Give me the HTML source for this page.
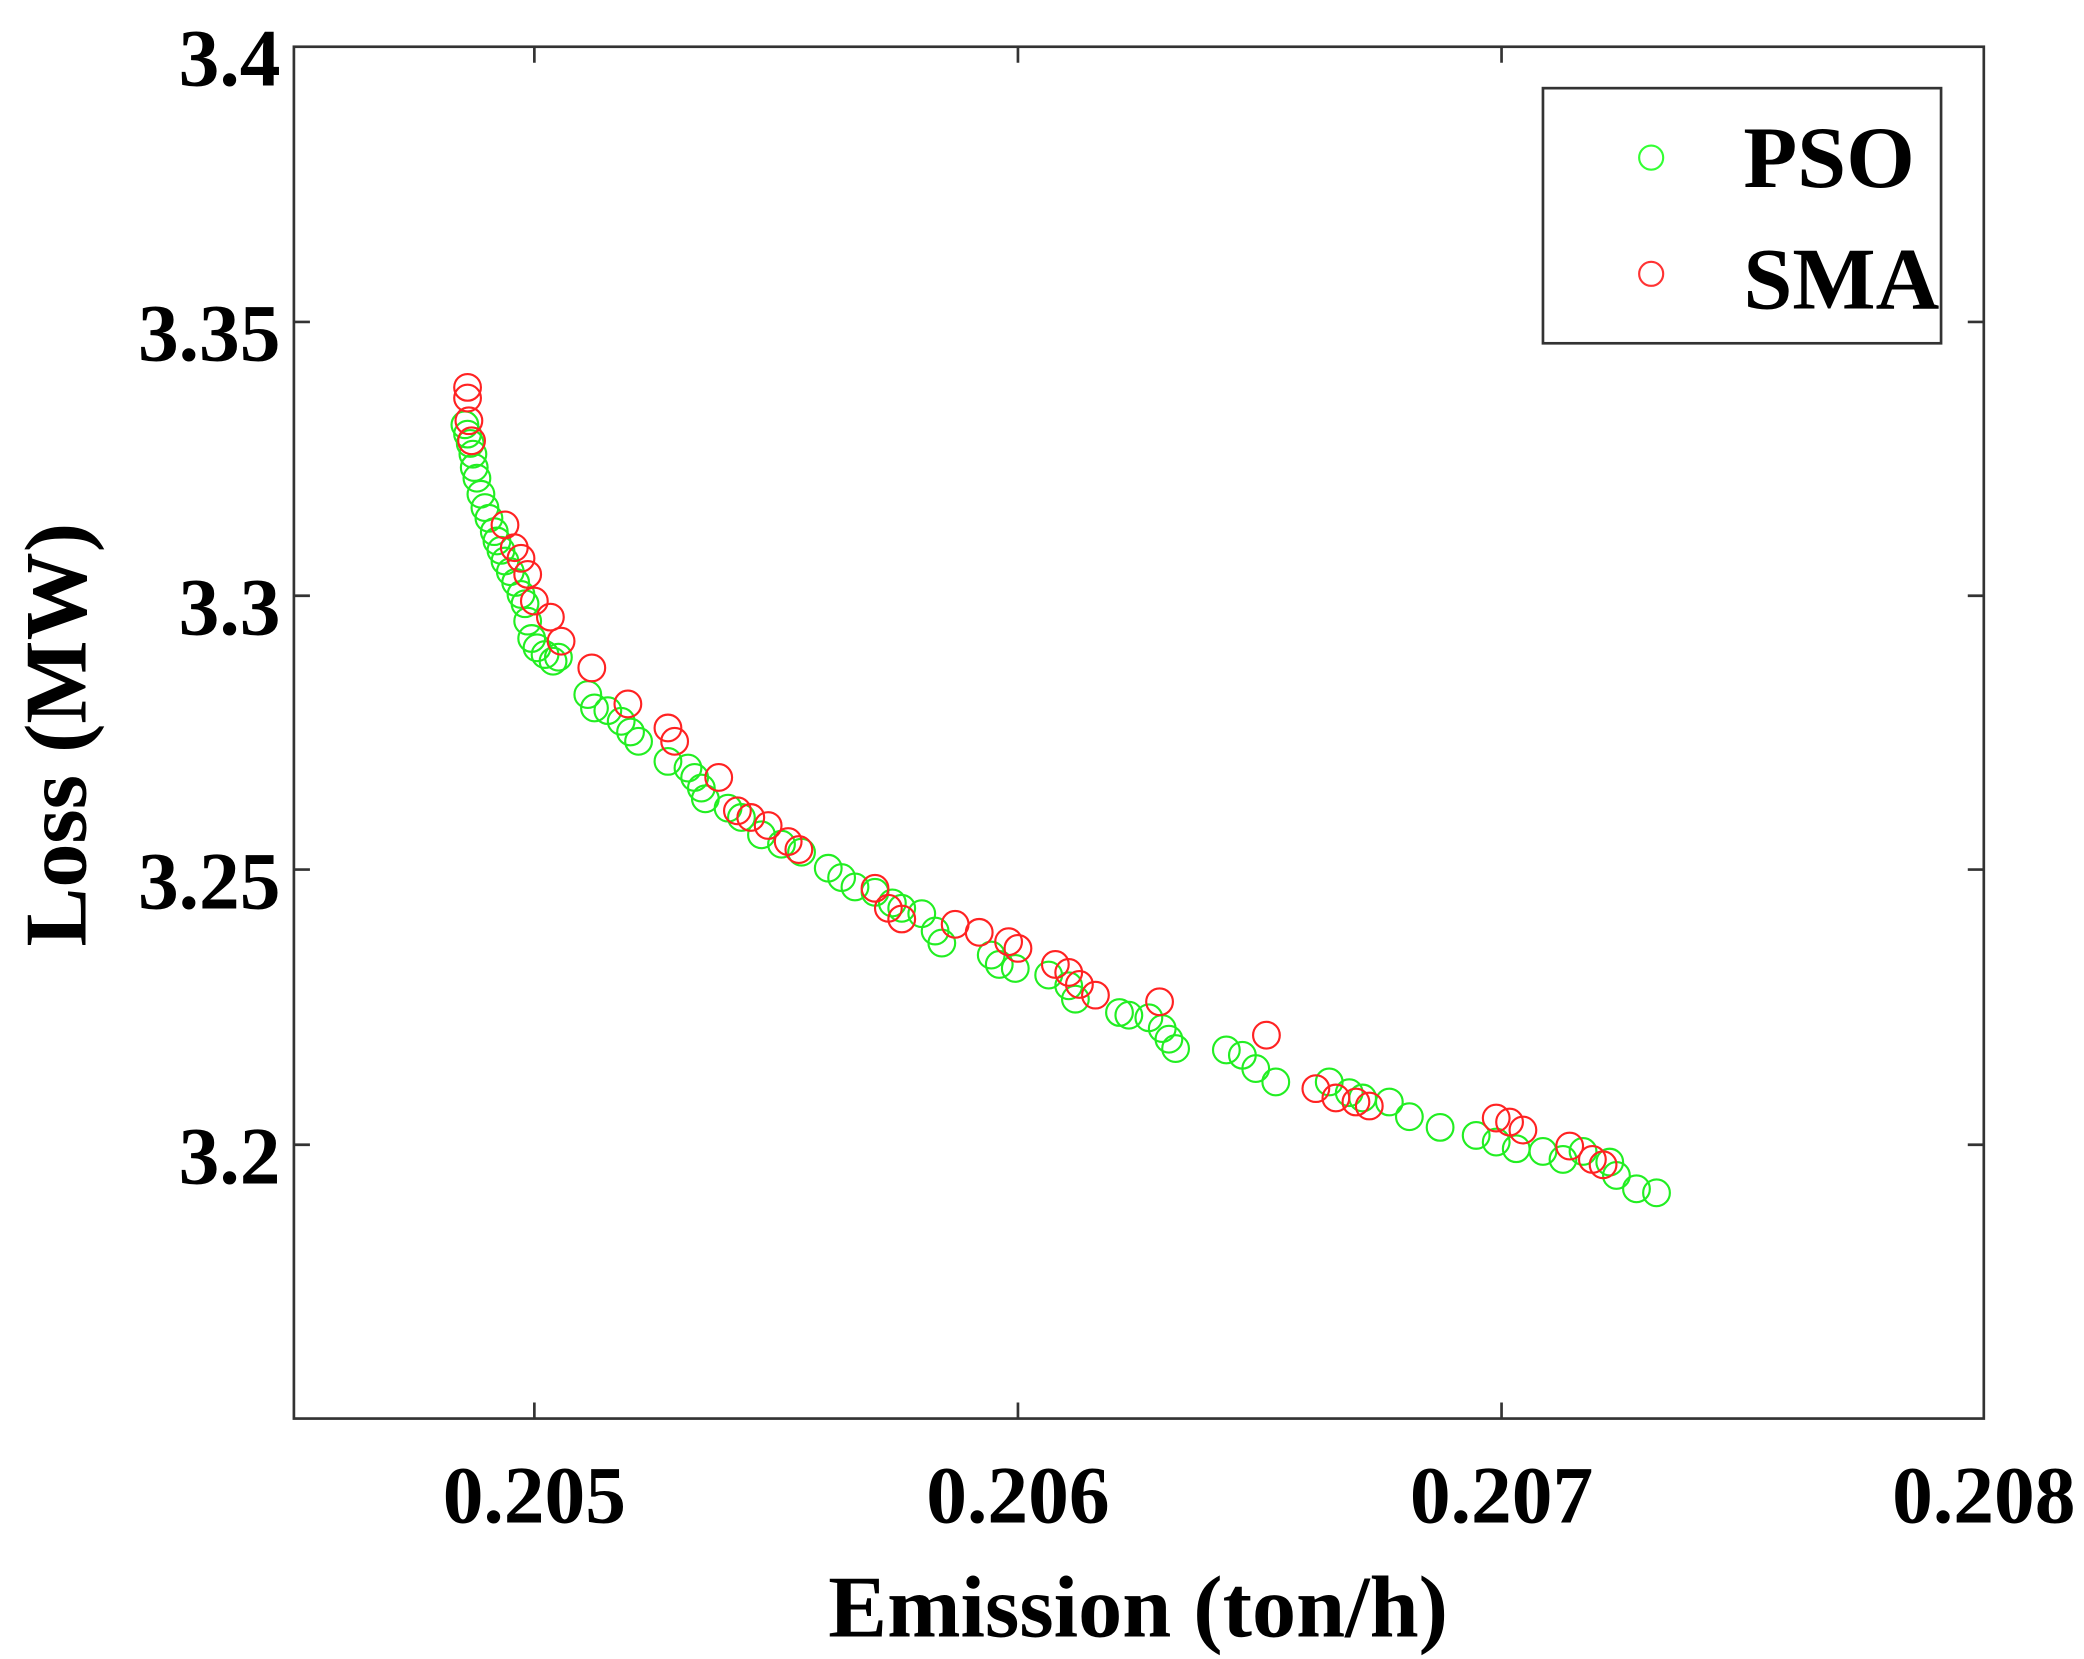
<!DOCTYPE html>
<html><head><style>html,body{margin:0;padding:0;background:#fff}svg{display:block}</style></head>
<body>
<svg width="2084" height="1659" viewBox="0 0 1560 1242" preserveAspectRatio="none" xmlns="http://www.w3.org/2000/svg">
<rect x="0" y="0" width="1560" height="1242" fill="#fff"/>
<g fill="none" stroke="#333" stroke-width="2">
<rect x="220" y="35" width="1265" height="1027"/>
<path d="M400 1062v-12M762 1062v-12M1124 1062v-12M400 35v12M762 35v12M1124 35v12M220 241h12M220 446h12M220 651h12M220 857h12M1485 241h-12M1485 446h-12M1485 651h-12M1485 857h-12"/>
</g>
<g font-family="Liberation Serif, serif" font-weight="bold" fill="#000" font-size="61">
<text x="210" y="64" text-anchor="end">3.4</text>
<text x="210" y="270" text-anchor="end">3.35</text>
<text x="210" y="475" text-anchor="end">3.3</text>
<text x="210" y="680" text-anchor="end">3.25</text>
<text x="210" y="886" text-anchor="end">3.2</text>
<text x="400" y="1140" text-anchor="middle">0.205</text>
<text x="762" y="1140" text-anchor="middle">0.206</text>
<text x="1124" y="1140" text-anchor="middle">0.207</text>
<text x="1485" y="1140" text-anchor="middle">0.208</text>
<text x="852" y="1225" text-anchor="middle" font-size="66">Emission (ton/h)</text>
<text transform="translate(64,550) rotate(-90)" text-anchor="middle" font-size="66">Loss (MW)</text>
</g>
<rect x="1155" y="66" width="298" height="191" fill="#fff" stroke="#333" stroke-width="2"/>
<circle cx="1236" cy="118" r="9" fill="none" stroke="#3f3" stroke-width="1.6"/>
<circle cx="1236" cy="205" r="9" fill="none" stroke="#f33" stroke-width="1.6"/>
<g font-family="Liberation Serif, serif" font-weight="bold" font-size="66" fill="#000">
<text x="1305" y="140">PSO</text>
<text x="1305" y="231">SMA</text>
</g>
<g fill="none" stroke="#2e2" stroke-width="1.6">
<circle cx="348" cy="318" r="10"/><circle cx="350" cy="325" r="10"/><circle cx="352" cy="332" r="10"/><circle cx="354" cy="340" r="10"/><circle cx="355" cy="350" r="10"/><circle cx="357" cy="358" r="10"/><circle cx="360" cy="370" r="10"/><circle cx="363" cy="380" r="10"/><circle cx="366" cy="388" r="10"/><circle cx="370" cy="398" r="10"/><circle cx="372" cy="405" r="10"/><circle cx="375" cy="412" r="10"/><circle cx="378" cy="420" r="10"/><circle cx="382" cy="428" r="10"/><circle cx="386" cy="436" r="10"/><circle cx="390" cy="445" r="10"/><circle cx="393" cy="452" r="10"/><circle cx="395" cy="465" r="10"/><circle cx="398" cy="478" r="10"/><circle cx="402" cy="485" r="10"/><circle cx="408" cy="490" r="10"/><circle cx="414" cy="495" r="10"/><circle cx="418" cy="492" r="10"/><circle cx="440" cy="520" r="10"/><circle cx="445" cy="530" r="10"/><circle cx="455" cy="532" r="10"/><circle cx="465" cy="540" r="10"/><circle cx="472" cy="548" r="10"/><circle cx="478" cy="555" r="10"/><circle cx="500" cy="570" r="10"/><circle cx="515" cy="575" r="10"/><circle cx="520" cy="582" r="10"/><circle cx="525" cy="590" r="10"/><circle cx="528" cy="598" r="10"/><circle cx="545" cy="605" r="10"/><circle cx="555" cy="612" r="10"/><circle cx="570" cy="625" r="10"/><circle cx="585" cy="632" r="10"/><circle cx="600" cy="638" r="10"/><circle cx="620" cy="650" r="10"/><circle cx="630" cy="657" r="10"/><circle cx="640" cy="664" r="10"/><circle cx="655" cy="668" r="10"/><circle cx="668" cy="676" r="10"/><circle cx="675" cy="680" r="10"/><circle cx="690" cy="684" r="10"/><circle cx="700" cy="697" r="10"/><circle cx="705" cy="706" r="10"/><circle cx="742" cy="715" r="10"/><circle cx="748" cy="722" r="10"/><circle cx="760" cy="725" r="10"/><circle cx="785" cy="730" r="10"/><circle cx="800" cy="738" r="10"/><circle cx="805" cy="748" r="10"/><circle cx="838" cy="758" r="10"/><circle cx="845" cy="760" r="10"/><circle cx="860" cy="762" r="10"/><circle cx="870" cy="770" r="10"/><circle cx="875" cy="778" r="10"/><circle cx="880" cy="785" r="10"/><circle cx="918" cy="786" r="10"/><circle cx="930" cy="790" r="10"/><circle cx="940" cy="800" r="10"/><circle cx="955" cy="810" r="10"/><circle cx="995" cy="810" r="10"/><circle cx="1010" cy="818" r="10"/><circle cx="1020" cy="822" r="10"/><circle cx="1040" cy="825" r="10"/><circle cx="1055" cy="836" r="10"/><circle cx="1078" cy="844" r="10"/><circle cx="1105" cy="850" r="10"/><circle cx="1120" cy="855" r="10"/><circle cx="1135" cy="860" r="10"/><circle cx="1155" cy="862" r="10"/><circle cx="1170" cy="868" r="10"/><circle cx="1185" cy="862" r="10"/><circle cx="1205" cy="870" r="10"/><circle cx="1210" cy="880" r="10"/><circle cx="1225" cy="890" r="10"/><circle cx="1240" cy="893" r="10"/>
</g>
<g fill="none" stroke="#f22" stroke-width="1.6">
<circle cx="350" cy="290" r="10"/><circle cx="350" cy="298" r="10"/><circle cx="351" cy="315" r="10"/><circle cx="353" cy="330" r="10"/><circle cx="378" cy="393" r="10"/><circle cx="385" cy="410" r="10"/><circle cx="390" cy="418" r="10"/><circle cx="395" cy="430" r="10"/><circle cx="400" cy="450" r="10"/><circle cx="412" cy="462" r="10"/><circle cx="420" cy="480" r="10"/><circle cx="443" cy="500" r="10"/><circle cx="470" cy="527" r="10"/><circle cx="500" cy="545" r="10"/><circle cx="505" cy="555" r="10"/><circle cx="538" cy="582" r="10"/><circle cx="552" cy="607" r="10"/><circle cx="562" cy="612" r="10"/><circle cx="575" cy="618" r="10"/><circle cx="590" cy="630" r="10"/><circle cx="598" cy="636" r="10"/><circle cx="655" cy="665" r="10"/><circle cx="665" cy="680" r="10"/><circle cx="675" cy="688" r="10"/><circle cx="715" cy="692" r="10"/><circle cx="733" cy="698" r="10"/><circle cx="755" cy="705" r="10"/><circle cx="762" cy="710" r="10"/><circle cx="790" cy="722" r="10"/><circle cx="800" cy="728" r="10"/><circle cx="808" cy="737" r="10"/><circle cx="820" cy="745" r="10"/><circle cx="868" cy="750" r="10"/><circle cx="948" cy="775" r="10"/><circle cx="985" cy="815" r="10"/><circle cx="1000" cy="822" r="10"/><circle cx="1015" cy="825" r="10"/><circle cx="1025" cy="828" r="10"/><circle cx="1120" cy="837" r="10"/><circle cx="1130" cy="840" r="10"/><circle cx="1140" cy="846" r="10"/><circle cx="1175" cy="858" r="10"/><circle cx="1192" cy="868" r="10"/><circle cx="1200" cy="872" r="10"/>
</g>
</svg>
</body></html>
